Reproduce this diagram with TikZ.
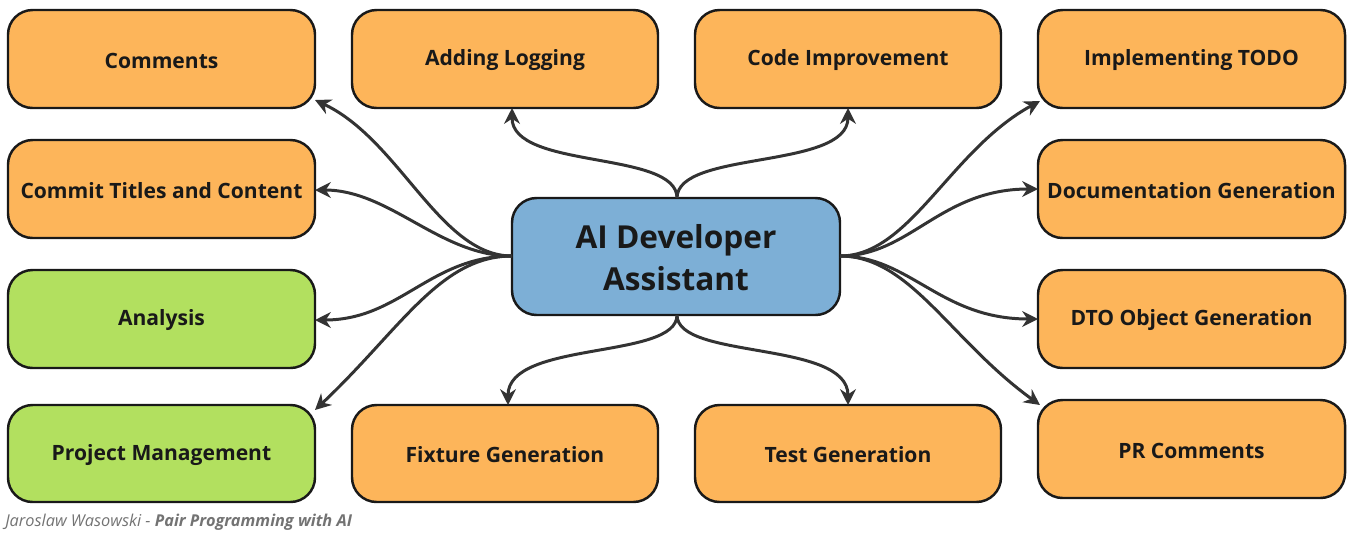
\documentclass[tikz,border=0pt]{standalone}
\usepackage{fontspec}
\setmainfont{Open Sans}
\usetikzlibrary{arrows.meta}
\definecolor{orng}{HTML}{FDB55A}
\definecolor{grn}{HTML}{B2E05F}
\definecolor{blu}{HTML}{7DAFD6}
\definecolor{ln}{HTML}{333333}
\begin{document}
\begin{tikzpicture}[x=0.02cm,y=-0.02cm,
  box/.style={draw=black!90,line width=1.4pt,rounded corners=14pt},
  ob/.style={box,fill=orng},
  gb/.style={box,fill=grn},
  lbl/.style={font=\bfseries\fontsize{12}{14}\selectfont,text=black!90},
  conn/.style={draw=ln,line width=1.7pt,-{Stealth[length=9pt,width=9pt]}}]
\useasboundingbox (0,0) rectangle (1358,535);
\def\mk#1#2#3#4#5#6#7{\draw[#1] (#2,#3) rectangle (#4,#5);
  \node[lbl] (#6) at ({(#2+#4)/2},{(#3+#5)/2+1.5}) {#7};}
\mk{ob}{8}{10}{315}{108}{com}{Comments}
\mk{ob}{8}{140}{315}{238}{cmt}{Commit Titles and Content}
\mk{gb}{8}{270}{315}{368}{ana}{Analysis}
\mk{gb}{8}{405}{315}{502}{pm}{Project Management}
\mk{ob}{352}{10}{658}{108}{log}{Adding Logging}
\mk{ob}{695}{10}{1001}{108}{imp}{Code Improvement}
\mk{ob}{352}{405}{658}{502}{fix}{Fixture Generation}
\mk{ob}{695}{405}{1001}{502}{tst}{Test Generation}
\mk{ob}{1038}{10}{1345}{108}{todo}{Implementing TODO}
\mk{ob}{1038}{140}{1345}{238}{doc}{Documentation Generation}
\mk{ob}{1038}{270}{1345}{368}{dto}{DTO Object Generation}
\mk{ob}{1038}{400}{1345}{498}{pr}{PR Comments}
\draw[box,fill=blu] (512,198) rectangle (840,315);
\node[font=\bfseries\fontsize{18}{24}\selectfont,text=black!90,align=center] (ai) at (676,258) {AI Developer\\Assistant};
\coordinate (L) at (512,256); \coordinate (R) at (840,256);
\coordinate (T) at (677,198); \coordinate (B) at (677,315);
\coordinate (comE) at (315,100); \coordinate (cmtE) at (315,190);
\coordinate (anaE) at (315,320); \coordinate (pmE) at (315,410);
\coordinate (todoE) at (1040,101); \coordinate (docE) at (1038,189);
\coordinate (dtoE) at (1038,319); \coordinate (prE) at (1040,405);
\coordinate (logE) at (512,108); \coordinate (impE) at (848,108);
\coordinate (fixE) at (508,405); \coordinate (tstE) at (848,405);
\draw[conn] (L) .. controls (440,256) and (400,140) .. (comE);
\draw[conn] (L) .. controls (440,256) and (390,190) .. (cmtE);
\draw[conn] (L) .. controls (430,256) and (400,320) .. (anaE);
\draw[conn] (L) .. controls (440,256) and (400,330) .. (pmE);
\draw[conn] (R) .. controls (910,256) and (950,150) .. (todoE);
\draw[conn] (R) .. controls (910,256) and (940,189) .. (docE);
\draw[conn] (R) .. controls (910,256) and (940,319) .. (dtoE);
\draw[conn] (R) .. controls (910,256) and (950,340) .. (prE);
\draw[conn] (T) .. controls (677,150) and (512,170) .. (logE);
\draw[conn] (T) .. controls (677,150) and (848,170) .. (impE);
\draw[conn] (B) .. controls (677,360) and (508,340) .. (fixE);
\draw[conn] (B) .. controls (677,360) and (848,340) .. (tstE);
\node[anchor=west,text=black!55,font=\fontsize{9.3}{11}\selectfont,inner sep=0] (cap) at (5,522) {\itshape Jaroslaw Wasowski - \bfseries Pair Programming with AI};
\end{tikzpicture}
\end{document}
